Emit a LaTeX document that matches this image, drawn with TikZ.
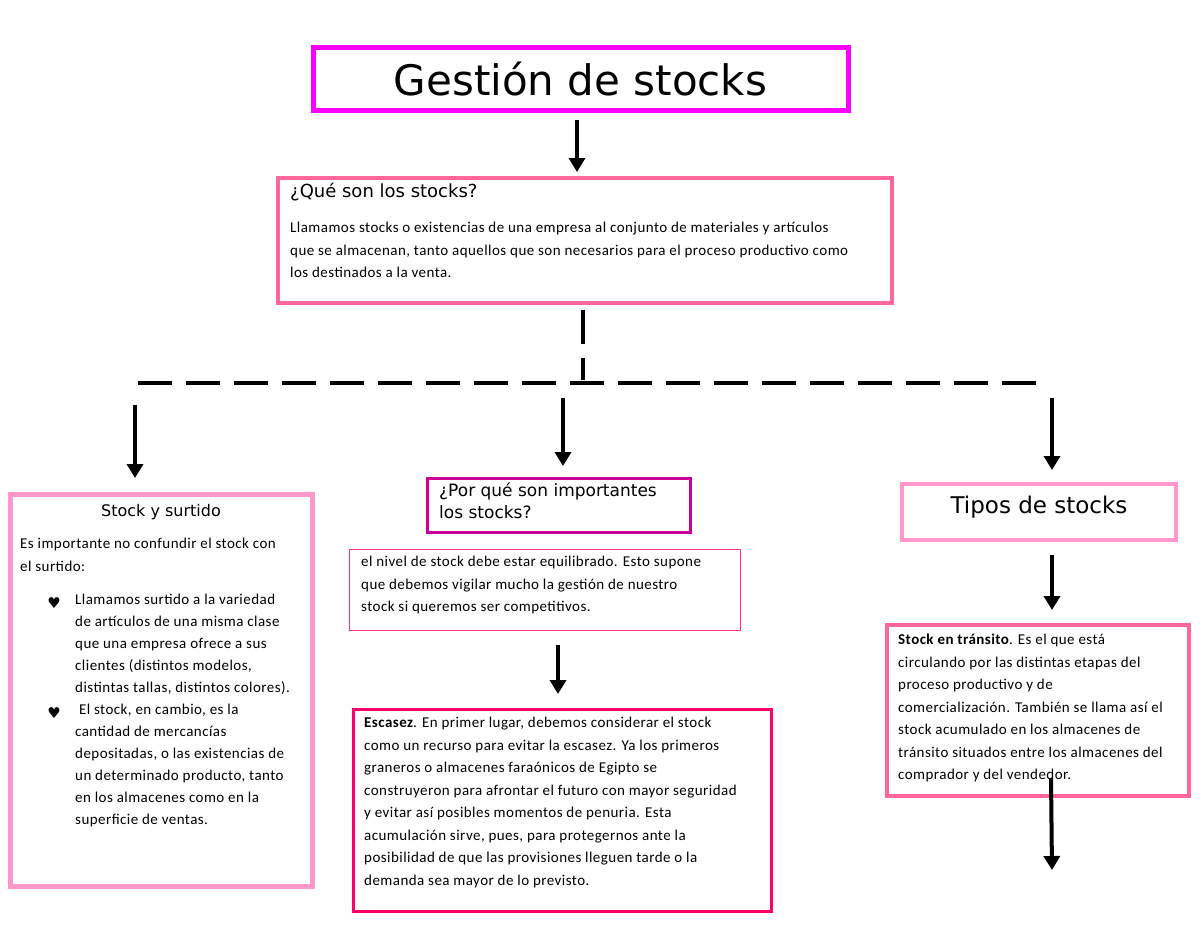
\documentclass[tikz,border=0pt]{standalone}
\usepackage{fontspec}
\setmainfont{Carlito}[LetterSpace=3]
\newfontfamily\djv{DejaVu Sans}
\usetikzlibrary{arrows.meta}
\definecolor{mag}{HTML}{FF00FF}
\definecolor{pk}{HTML}{FF6699}
\definecolor{lpk}{HTML}{FF99CC}
\definecolor{pur}{HTML}{CC0099}
\definecolor{rose}{HTML}{FF3377}
\definecolor{hot}{HTML}{FF0066}
\begin{document}
\begin{tikzpicture}[x=1pt,y=-1pt,
  arr/.style={line width=4pt,-{Triangle[length=14pt,width=16pt]}},
  dsh/.style={line width=4pt,dash pattern=on 34pt off 14pt},
  body/.style={anchor=north west,align=left,inner sep=0pt,font=\fontsize{15}{22.5}\selectfont}]
\useasboundingbox (0,0) rectangle (1200,927);
\fill[white] (0,0) rectangle (1200,927);
% boxes
\draw[mag,line width=5pt] (313,47) rectangle (848,110);
\node (title) at (580.5,78.5) {\djv\fontsize{42}{44}\selectfont Gestión de stocks};
\draw[pk,line width=3.5pt] (278,178) rectangle (892,303);
\node[anchor=north west,inner sep=0pt] (q1) at (290,183) {\djv\fontsize{18}{20}\selectfont ¿Qué son los stocks?};
\node[body] (q1b) at (290,222) {Llamamos stocks o existencias de una empresa al conjunto de materiales y artículos\\que se almacenan, tanto aquellos que son necesarios para el proceso productivo como\\los destinados a la venta.};
% arrows
\coordinate (a1s) at (577,120); \coordinate (a1e) at (577,172);
\draw[arr] (a1s) -- (a1e);
\coordinate (d0) at (583,310); \coordinate (d1) at (583,380);
\coordinate (hl) at (138,383); \coordinate (hr) at (1050,383);
\draw[dsh] (d0) -- (d1);
\draw[dsh] (hl) -- (hr);
\coordinate (l1) at (135,405); \coordinate (l2) at (135,478);
\coordinate (m1) at (563,398); \coordinate (m2) at (563,466);
\coordinate (r1) at (1052,398); \coordinate (r2) at (1052,470);
\draw[arr] (l1) -- (l2);
\draw[arr] (m1) -- (m2);
\draw[arr] (r1) -- (r2);
% left
\draw[lpk,line width=5pt] (10,494) rectangle (312,886);
\node (lt) at (161,512) {\djv\fontsize{16}{18}\selectfont Stock y surtido};
\node[body] (lb) at (20,538) {Es importante no confundir el stock con\\el surtido:};
\node[body,font=\fontsize{15}{22}\selectfont] (lb2) at (75,594) {Llamamos surtido a la variedad\\de artículos de una misma clase\\que una empresa ofrece a sus\\clientes (distintos modelos,\\distintas tallas, distintos colores).\\ \ El stock, en cambio, es la\\cantidad de mercancías\\depositadas, o las existencias de\\un determinado producto, tanto\\en los almacenes como en la\\superficie de ventas.};
\node (h1) at (54,603) {\djv\fontsize{15}{15}\selectfont ♥};
\node (h2) at (54,713) {\djv\fontsize{15}{15}\selectfont ♥};
% middle
\draw[pur,line width=3pt] (427,478) rectangle (690,532);
\node[anchor=north west,align=left,inner sep=0pt,font=\djv\fontsize{17}{22}\selectfont] (pq) at (439,483) {¿Por qué son importantes\\los stocks?};
\draw[rose,line width=1pt] (349,549) rectangle (740,630);
\node[body] (nv) at (361,556) {el nivel de stock debe estar equilibrado. Esto supone\\que debemos vigilar mucho la gestión de nuestro\\stock si queremos ser competitivos.};
\coordinate (e1) at (558,645); \coordinate (e2) at (558,694);
\draw[arr] (e1) -- (e2);
\draw[hot,line width=3pt] (353,709) rectangle (771,911);
\node[body] (esc) at (364,717) {\textbf{Escasez}. En primer lugar, debemos considerar el stock\\como un recurso para evitar la escasez. Ya los primeros\\graneros o almacenes faraónicos de Egipto se\\construyeron para afrontar el futuro con mayor seguridad\\y evitar así posibles momentos de penuria. Esta\\acumulación sirve, pues, para protegernos ante la\\posibilidad de que las provisiones lleguen tarde o la\\demanda sea mayor de lo previsto.};
% right
\draw[lpk,line width=3.5pt] (902,484) rectangle (1176,540);
\node (tp) at (1039,507) {\djv\fontsize{23}{25}\selectfont Tipos de stocks};
\coordinate (t1) at (1052,555); \coordinate (t2) at (1052,610);
\draw[arr] (t1) -- (t2);
\draw[pk,line width=3.5pt] (887,625) rectangle (1189,796);
\node[body] (tr) at (898,634) {\textbf{Stock en tránsito}. Es el que está\\circulando por las distintas etapas del\\proceso productivo y de\\comercialización. También se llama así el\\stock acumulado en los almacenes de\\tránsito situados entre los almacenes del\\comprador y del vendedor.};
\coordinate (f1) at (1051,778); \coordinate (f2) at (1052,870);
\draw[arr] (f1) -- (f2);
\end{tikzpicture}
\end{document}
